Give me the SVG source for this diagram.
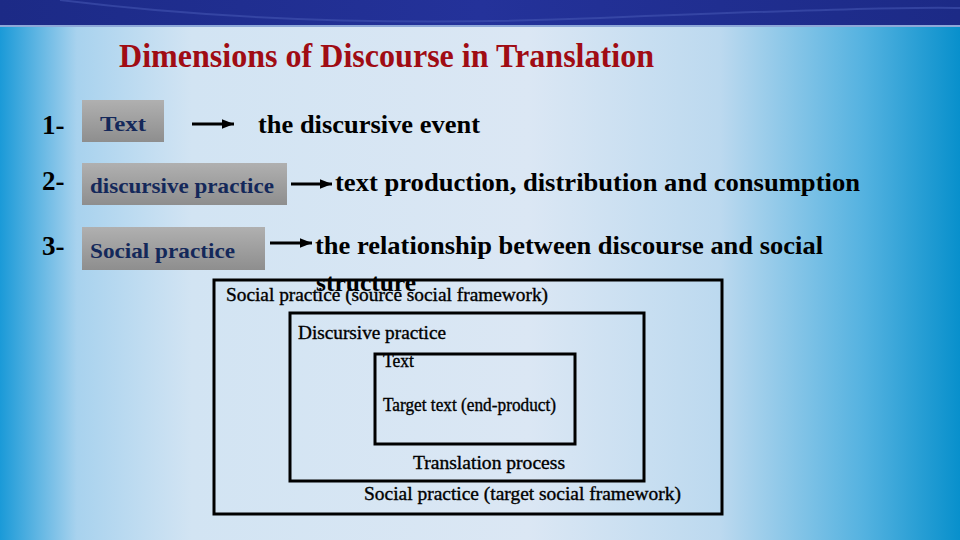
<svg xmlns="http://www.w3.org/2000/svg" width="960" height="540" viewBox="0 0 960 540">
<defs>
<linearGradient id="bg" x1="0" y1="0" x2="1" y2="0">
<stop offset="0" stop-color="#1a9ad8"/>
<stop offset="0.08" stop-color="#a8d2ee"/>
<stop offset="0.2" stop-color="#d2e4f3"/>
<stop offset="0.55" stop-color="#dbe7f4"/>
<stop offset="0.75" stop-color="#bcd9ef"/>
<stop offset="0.9" stop-color="#54b2e0"/>
<stop offset="1" stop-color="#0890cc"/>
</linearGradient>
<linearGradient id="band" x1="0" y1="0" x2="1" y2="0">
<stop offset="0" stop-color="#1c2a86"/>
<stop offset="0.5" stop-color="#24329a"/>
<stop offset="1" stop-color="#1c2a86"/>
</linearGradient>
<linearGradient id="grey" x1="0" y1="0" x2="0" y2="1">
<stop offset="0" stop-color="#b0b0b0"/>
<stop offset="1" stop-color="#8e8e8e"/>
</linearGradient>
<marker id="arr" viewBox="0 0 10 10" refX="10" refY="5" markerWidth="4" markerHeight="4" orient="auto">
<path d="M0,1 L10,5 L0,9 z" fill="#000"/>
</marker>
<style>
.title{font-family:"Liberation Serif",serif;font-weight:bold;font-size:33px;fill:#a00c14}
.num{font-family:"Liberation Serif",serif;font-weight:bold;font-size:27px;fill:#000}
.lbl{font-family:"Liberation Serif",serif;font-weight:bold;font-size:22px;fill:#14285a}
.desc{font-family:"Liberation Serif",serif;font-weight:bold;font-size:26px;fill:#000}
.box{fill:url(#grey)}
.frame{fill:none;stroke:#000;stroke-width:3}
.in{font-family:"Liberation Serif",serif;font-size:18px;fill:#000;stroke:#000;stroke-width:0.35}
.conn{stroke:#000;stroke-width:3;fill:none;marker-end:url(#arr)}
</style>
</defs>
<rect x="0" y="0" width="960" height="540" fill="url(#bg)"/>
<rect x="0" y="0" width="960" height="25" fill="url(#band)"/>
<path d="M60,0 Q300,30 600,18 T960,8" stroke="#4a5cb8" stroke-width="2" fill="none" opacity="0.5"/>
<rect x="0" y="25" width="960" height="2" fill="#8ea8d8"/>

<text class="title" x="119" y="67" textLength="535" lengthAdjust="spacingAndGlyphs">Dimensions of Discourse in Translation</text>

<g id="row1">
<text class="num" x="42" y="134">1-</text>
<rect class="box" x="82" y="100" width="82" height="42"/>
<text class="lbl" x="100" y="131" textLength="46" lengthAdjust="spacingAndGlyphs">Text</text>
<text class="desc" x="258" y="133" textLength="222" lengthAdjust="spacingAndGlyphs">the discursive event</text>
</g>
<g id="row2">
<text class="num" x="42" y="190">2-</text>
<rect class="box" x="82" y="163" width="205" height="42"/>
<text class="lbl" x="90" y="193" textLength="184" lengthAdjust="spacingAndGlyphs">discursive practice</text>
<text class="desc" x="335" y="191" textLength="525" lengthAdjust="spacingAndGlyphs">text production, distribution and consumption</text>
</g>
<g id="row3">
<text class="num" x="42" y="255">3-</text>
<rect class="box" x="82" y="227" width="183" height="43"/>
<text class="lbl" x="90" y="258" textLength="145" lengthAdjust="spacingAndGlyphs">Social practice</text>
<text class="desc" x="315" y="254" textLength="508" lengthAdjust="spacingAndGlyphs">the relationship between discourse and social</text>
<text class="desc" x="316" y="291" textLength="100" lengthAdjust="spacingAndGlyphs">structure</text>
</g>

<g id="connectors">
<line class="conn" x1="192" y1="124" x2="234" y2="124"/>
<line class="conn" x1="291" y1="184" x2="332" y2="184"/>
<line class="conn" x1="270" y1="243" x2="312" y2="243"/>
</g>

<g id="outer">
<rect class="frame" x="214" y="280" width="508" height="234"/>
<text class="in" x="226" y="301" textLength="322" lengthAdjust="spacingAndGlyphs">Social practice (source social framework)</text>
<text class="in" x="364" y="500" textLength="317" lengthAdjust="spacingAndGlyphs">Social practice (target social framework)</text>
</g>
<g id="middle">
<rect class="frame" x="290" y="313" width="354" height="168"/>
<text class="in" x="298" y="339" textLength="148" lengthAdjust="spacingAndGlyphs">Discursive practice</text>
<text class="in" x="413" y="469" textLength="152" lengthAdjust="spacingAndGlyphs">Translation process</text>
</g>
<g id="inner">
<rect class="frame" x="375" y="354" width="200" height="90"/>
<text class="in" x="383" y="367" font-size="15" textLength="31" lengthAdjust="spacingAndGlyphs">Text</text>
<text class="in" x="383" y="411" font-size="16" textLength="173" lengthAdjust="spacingAndGlyphs">Target text (end-product)</text>
</g>
</svg>
